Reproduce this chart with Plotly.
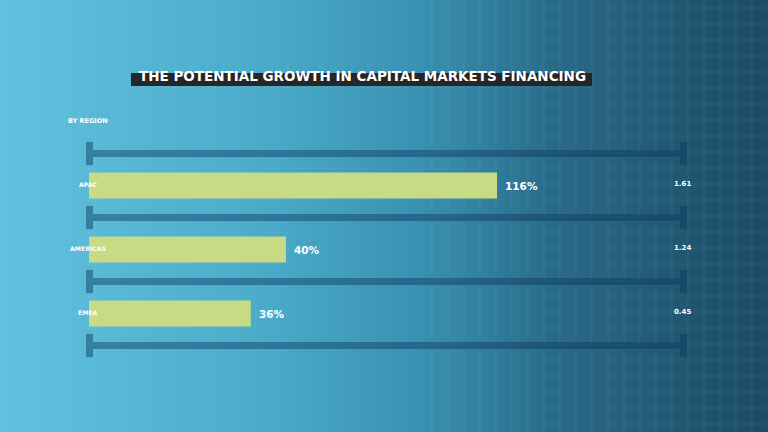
import plotly.graph_objects as go
import numpy as np

# data
regions = ["APAC", "AMERICAS", "EMEA"]
growth_pct = [116, 40, 36]
bar_extent = [116, 56, 46]   # drawn bar lengths, on the same scale as the 116% bar
side_values = ["1.61", "1.24", "0.45"]
title = "THE POTENTIAL GROWTH IN CAPITAL MARKETS FINANCING"
subtitle = "BY REGION"

W, H = 768, 432
ppu = 408 / 116          # pixels per unit on x
x_org = 89               # pixel where x = 0
lane_end = (685 - x_org) / ppu
row_px = 64              # pixels per row on y
row0 = 185.5             # pixel centre of first bar

FONT = "DejaVu Sans"
WHITE = "#ffffff"

def px_x(p):
    return p / W

def px_y(p):
    return 1 - p / H

rows = list(range(len(regions)))

fig = go.Figure()
fig.add_bar(x=bar_extent, y=rows, orientation="h", width=0.41,
            marker=dict(color="#c6db84", line=dict(width=0)),
            hoverinfo="skip")

shapes = []
# background gradient, left light cyan to right dark teal
stops_x = [0, 250, 420, 560, 768]
stops_c = [(96, 194, 222), (75, 173, 203), (57, 145, 178), (40, 106, 136), (29, 76, 100)]
strip = 8
for s in range(0, W, strip):
    c = [int(np.interp(s + strip / 2, stops_x, [k[i] for k in stops_c])) for i in range(3)]
    shapes.append(dict(type="rect", xref="paper", yref="paper", layer="below",
                       x0=px_x(s), x1=px_x(s + strip + 0.5), y0=0, y1=1,
                       fillcolor="rgb(%d,%d,%d)" % tuple(c), line=dict(width=0)))
# tile grid
for gx in range(0, W, 16):
    shapes.append(dict(type="line", xref="paper", yref="paper", layer="below",
                       x0=px_x(gx), x1=px_x(gx), y0=0, y1=1,
                       line=dict(color="rgba(255,255,255,0.07)", width=1)))
for gy in range(8, H, 16):
    shapes.append(dict(type="line", xref="paper", yref="paper", layer="below",
                       x0=0, x1=1, y0=px_y(gy), y1=px_y(gy),
                       line=dict(color="rgba(255,255,255,0.07)", width=1)))

# lane ropes with end caps
lane_col = "rgba(12,55,90,0.45)"
cap_l0, cap_l1 = -3 / ppu, 4 / ppu
cap_r0, cap_r1 = lane_end - 5 / ppu, lane_end + 2 / ppu
cap_h = 11.5 / row_px
for k in range(len(regions) + 1):
    yl = k - 0.5
    shapes.append(dict(type="line", xref="x", yref="y", layer="below",
                       x0=cap_l1, x1=cap_r0, y0=yl, y1=yl,
                       line=dict(color=lane_col, width=7)))
    for a, b in [(cap_l0, cap_l1), (cap_r0, cap_r1)]:
        shapes.append(dict(type="rect", xref="x", yref="y", layer="below",
                           x0=a, x1=b, y0=yl - cap_h, y1=yl + cap_h,
                           fillcolor=lane_col, line=dict(width=0)))

# title highlight box
shapes.append(dict(type="rect", xref="paper", yref="paper",
                   x0=px_x(131), x1=px_x(592), y0=px_y(86), y1=px_y(73),
                   fillcolor="#262626", line=dict(width=0), layer="below"))

annotations = []
annotations.append(dict(text="<b>" + title + "</b>", xref="paper", yref="paper",
                        x=px_x(362), y=px_y(76), xanchor="center", yanchor="middle",
                        showarrow=False, font=dict(family=FONT, size=13.5, color=WHITE)))
annotations.append(dict(text="<b>" + subtitle + "</b>", xref="paper", yref="paper",
                        x=px_x(66), y=px_y(121), xanchor="left", yanchor="middle",
                        showarrow=False, font=dict(family=FONT, size=6.5, color=WHITE)))
for k, reg in enumerate(regions):
    annotations.append(dict(text="<b>" + reg + "</b>", x=-1 / ppu, y=k - 0.02,
                            xanchor="center", yanchor="middle", showarrow=False,
                            font=dict(family=FONT, size=6.2, color=WHITE)))
    annotations.append(dict(text="<b>%d%%</b>" % growth_pct[k], x=bar_extent[k], y=k,
                            xanchor="left", yanchor="middle", xshift=6, showarrow=False,
                            font=dict(family=FONT, size=10.5, color=WHITE)))
    annotations.append(dict(text="<b>" + side_values[k] + "</b>", x=lane_end - 0.6, y=k - 0.03,
                            xanchor="center", yanchor="middle", showarrow=False,
                            font=dict(family=FONT, size=7, color=WHITE)))

fig.update_layout(
    width=W, height=H,
    margin=dict(l=0, r=0, t=0, b=0),
    paper_bgcolor="#3a91b1",
    plot_bgcolor="rgba(0,0,0,0)",
    showlegend=False,
    hovermode=False,
    shapes=shapes,
    annotations=annotations,
    xaxis=dict(range=[-x_org / ppu, (W - x_org) / ppu], visible=False, fixedrange=True),
    yaxis=dict(range=[(H - row0) / row_px, -row0 / row_px], visible=False, fixedrange=True),
)

# the page's default 8px body margin would shift the whole chart
fig.write_html("out.html", config={"displayModeBar": False},
               post_script="document.body.style.margin='0px';")
